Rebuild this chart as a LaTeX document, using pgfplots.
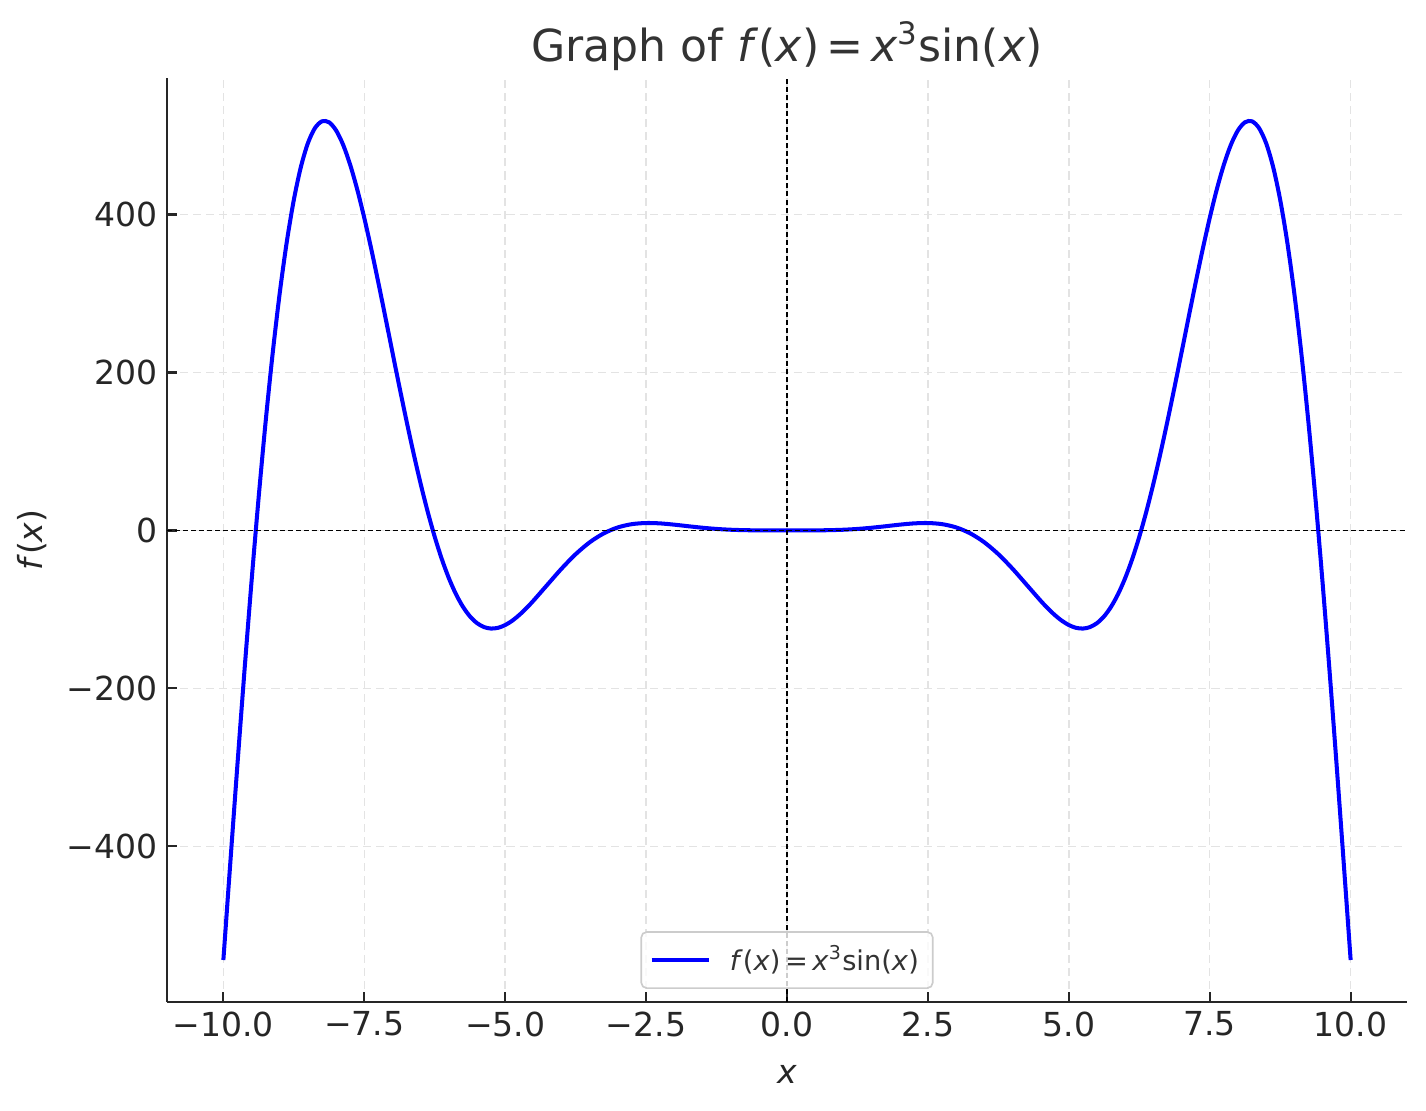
\documentclass[border=0pt]{standalone}
\usepackage{pgfplots}
\pgfplotsset{compat=1.18}
\usepackage{fontspec}
\setmainfont{DejaVu Sans}

\definecolor{txt}{HTML}{262626}
\definecolor{ttl}{HTML}{333333}
\definecolor{gridc}{HTML}{E3E3E3}
\definecolor{legc}{HTML}{CCCCCC}
\newcommand{\fx}{\textit{f}(\textit{x})\thinspace=\thinspace\textit{x}\textsuperscript{3}sin(\textit{x})}

% f(x) = x^3 sin(x)
\pgfplotstableread{
x y
-10 -544.021
-9.875 -419.050
-9.75 -296.149
-9.625 -177.341
-9.5 -64.433
-9.375 40.998
-9.25 137.625
-9.125 224.375
-9 300.434
-8.875 365.250
-8.75 418.518
-8.625 460.170
-8.5 490.371
-8.375 509.482
-8.25 518.056
-8.125 516.799
-8 506.551
-7.875 488.265
-7.75 462.971
-7.625 431.750
-7.5 395.719
-7.375 355.990
-7.25 313.658
-7.125 269.779
-7 225.347
-6.875 181.279
-6.75 138.409
-6.625 97.467
-6.5 59.077
-6.375 23.754
-6.25 -8.101
-6.125 -36.197
-6 -60.354
-5.875 -80.492
-5.75 -96.629
-5.625 -108.866
-5.5 -117.384
-5.375 -122.426
-5.25 -124.290
-5.125 -123.314
-5 -119.866
-4.875 -114.328
-4.75 -107.096
-4.625 -98.554
-4.5 -89.077
-4.25 -68.704
-4 -48.435
-3.75 -30.141
-3.5 -15.040
-3.25 -3.714
-3 3.810
-2.75 7.937
-2.5 9.351
-2.25 8.863
-2 7.274
-1.75 5.274
-1.5 3.367
-1.25 1.853
-1 0.841
-0.75 0.288
-0.5 0.060
-0.25 0.004
0 0
0.25 0.004
0.5 0.060
0.75 0.288
1 0.841
1.25 1.853
1.5 3.367
1.75 5.274
2 7.274
2.25 8.863
2.5 9.351
2.75 7.937
3 3.810
3.25 -3.714
3.5 -15.040
3.75 -30.141
4 -48.435
4.25 -68.704
4.5 -89.077
4.625 -98.554
4.75 -107.096
4.875 -114.328
5 -119.866
5.125 -123.314
5.25 -124.290
5.375 -122.426
5.5 -117.384
5.625 -108.866
5.75 -96.629
5.875 -80.492
6 -60.354
6.125 -36.197
6.25 -8.101
6.375 23.754
6.5 59.077
6.625 97.467
6.75 138.409
6.875 181.279
7 225.347
7.125 269.779
7.25 313.658
7.375 355.990
7.5 395.719
7.625 431.750
7.75 462.971
7.875 488.265
8 506.551
8.125 516.799
8.25 518.056
8.375 509.482
8.5 490.371
8.625 460.170
8.75 418.518
8.875 365.250
9 300.434
9.125 224.375
9.25 137.625
9.375 40.998
9.5 -64.433
9.625 -177.341
9.75 -296.149
9.875 -419.050
10 -544.021
}\curve

\begin{document}
\begin{tikzpicture}
\begin{axis}[
    name=ax,
    scale only axis,
    width=446.4pt, height=332.64pt,
    xmin=-11, xmax=11, ymin=-597.2, ymax=572.9,
    axis lines=left,
    axis line style={-, color=txt, line width=1pt},
    tick align=inside,
    major tick length=3.6pt,
    tick style={color=txt, line width=0.8pt},
    xtick={-10,-7.5,-5,-2.5,0,2.5,5,7.5,10},
    xticklabels={−10.0,−7.5,−5.0,−2.5,0.0,2.5,5.0,7.5,10.0},
    ytick={-400,-200,0,200,400},
    yticklabels={−400,−200,0,200,400},
    ticklabel style={font=\fontsize{11.9}{14}\selectfont, color=txt},
    grid=major,
    grid style={gridc, line width=0.5pt, dash pattern=on 2.9pt off 1.8pt},
    title={Graph of \fx},
    title style={font=\fontsize{15.9}{19}\selectfont, color=ttl, yshift=-7pt},
    xlabel={\textit{x}},
    ylabel={\textit{f}(\textit{x})},
    label style={font=\fontsize{11.9}{14}\selectfont, color=txt},
    xlabel style={yshift=-3.6pt},
    legend style={at={(0.5,0)}, anchor=south, yshift=4.7pt,
        draw=legc, line width=0.6pt, rounded corners=2pt,
        fill=white, fill opacity=0.8, text opacity=1,
        font=\fontsize{9.8}{12}\selectfont, text=ttl,
        inner xsep=3pt, inner ysep=3pt},
    legend cell align=left,
    legend image code/.code={\draw[#1] (0pt,0pt) -- (20.5pt,0pt);},
]
\addplot[blue, line width=1.45pt, smooth] table {\curve};
\addlegendentry{\hspace{5pt}\fx}
\addplot[black, line width=0.5pt, dash pattern=on 1.8pt off 1.1pt, forget plot] coordinates {(-11,0) (11,0)};
\addplot[black, line width=0.5pt, dash pattern=on 1.8pt off 1.1pt, forget plot] coordinates {(0,-597.2) (0,572.9)};
\end{axis}
\pgfresetboundingbox
\path[use as bounding box] ([xshift=-60.12pt,yshift=-38.88pt]ax.south west) rectangle ([xshift=6.84pt,yshift=28.08pt]ax.north east);
\end{tikzpicture}
\end{document}
